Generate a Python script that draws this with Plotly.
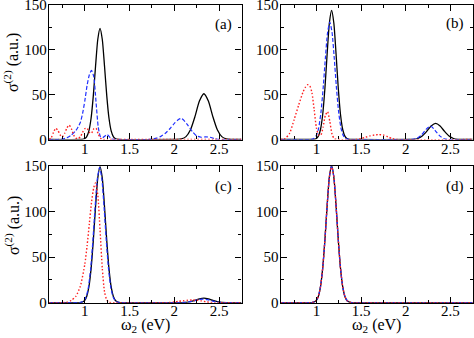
import plotly.graph_objects as go

W, H = 474, 338

# ---------------- data ----------------
# panel (a)
a_black_x = [0.60, 0.95, 0.97, 0.995, 1.02, 1.045, 1.07, 1.095, 1.12, 1.145, 1.17, 1.195, 1.22, 1.245, 1.27, 1.295, 1.32, 1.345, 1.37, 1.40,
             2.00, 2.03, 2.08, 2.13, 2.18, 2.23, 2.28, 2.33, 2.38, 2.43, 2.48, 2.53, 2.58, 2.63, 2.66, 2.75]
a_black_y = [0, 0, 0.2, 0.8, 3.0, 9.4, 23.7, 48.9, 82.0, 111.8, 124, 111.8, 82.0, 48.9, 23.7, 9.4, 3.0, 0.8, 0.2, 0,
             0, 0.1, 0.7, 3.2, 10.8, 25.5, 42.9, 51, 42.9, 25.5, 10.8, 3.2, 0.7, 0.1, 0, 0]
a_blue_x = [0.60, 0.70, 0.75, 0.80, 0.85, 0.90, 0.925, 0.95, 0.975, 1.00, 1.025, 1.05, 1.075, 1.10, 1.125, 1.15, 1.175, 1.20, 1.225, 1.25, 1.275, 1.30, 1.35,
            1.70, 1.75, 1.80, 1.85, 1.90, 1.95, 2.00, 2.05, 2.075, 2.10, 2.15, 2.20, 2.25, 2.30, 2.35, 2.40, 2.45, 2.50, 2.75]
a_blue_y = [0, 0, 0.5, 2, 5, 10, 14, 19, 29, 43, 60, 72, 77, 70, 42, 14, 3, 2, 4, 5.5, 3, 0.5, 0,
            0, 0.5, 1.5, 3.5, 7, 12, 18, 22.5, 23.5, 22, 16, 9, 4, 2.5, 3, 2.5, 1, 0, 0]
a_red_x = [0.60, 0.625, 0.65, 0.675, 0.70, 0.725, 0.75, 0.775, 0.80, 0.825, 0.85, 0.875, 0.90, 0.925, 0.95, 0.975, 1.00, 1.025, 1.05, 1.075,
           1.10, 1.125, 1.15, 1.175, 1.20, 1.25, 2.75]
a_red_y = [0, 2, 8, 12.5, 10, 5, 3, 7, 13, 16, 12, 5, 1.5, 1, 3, 8, 12, 12.5, 8, 7,
           12, 12.5, 6, 1.5, 0, 0, 0]

# panel (b)
b_black_x = [0.60, 0.95, 0.97, 0.995, 1.02, 1.045, 1.07, 1.095, 1.12, 1.145, 1.17, 1.195, 1.22, 1.245, 1.27, 1.295, 1.32, 1.345, 1.37, 1.40,
             2.035, 2.085, 2.135, 2.185, 2.235, 2.285, 2.335, 2.385, 2.435, 2.485, 2.535, 2.585, 2.635, 2.75]
b_black_y = [0, 0, 0.1, 0.9, 3.5, 10.9, 27.6, 56.9, 95.3, 129.9, 144, 129.9, 95.3, 56.9, 27.6, 10.9, 3.5, 0.9, 0.1, 0,
             0, 0.2, 1.1, 3.8, 9.0, 15.1, 18, 15.1, 9.0, 3.8, 1.1, 0.2, 0, 0]
b_blue_x = [0.60, 0.92, 0.95, 0.975, 1.00, 1.025, 1.05, 1.075, 1.10, 1.125, 1.15, 1.175, 1.20, 1.225, 1.25, 1.275, 1.30, 1.325, 1.35, 1.38,
            2.03, 2.08, 2.13, 2.18, 2.23, 2.28, 2.33, 2.38, 2.43, 2.48, 2.75]
b_blue_y = [0, 0, 0.3, 1.4, 4.6, 12.8, 29.6, 56.7, 90.4, 119.3, 131, 119.3, 90.4, 56.7, 29.6, 12.8, 4.6, 1.4, 0.3, 0,
            0, 0.3, 1.5, 5.4, 11.6, 15, 10, 4, 0.8, 0, 0]
b_red_x = [0.60, 0.625, 0.65, 0.70, 0.75, 0.80, 0.85, 0.875, 0.90, 0.925, 0.95, 0.975, 1.00, 1.025, 1.05, 1.075, 1.10, 1.125, 1.15, 1.175, 1.20, 1.25,
           1.45, 1.50, 1.55, 1.60, 1.65, 1.70, 1.75, 1.80, 1.85, 1.90, 2.75]
b_red_y = [0, 0, 1, 7, 22, 38, 53, 58, 61, 60, 52, 33, 13, 5, 5, 14, 27, 31, 20, 6, 1, 0,
           0, 1, 2.5, 4, 5, 5.5, 5, 3, 1, 0, 0]

# panel (c)
c_black_x = [0.60, 0.92, 0.945, 0.97, 0.995, 1.02, 1.045, 1.07, 1.095, 1.12, 1.145, 1.17, 1.195, 1.22, 1.245, 1.27, 1.295, 1.32, 1.345, 1.37, 1.395, 1.42,
             2.03, 2.08, 2.13, 2.18, 2.23, 2.28, 2.33, 2.38, 2.43, 2.48, 2.53, 2.58, 2.63, 2.75]
c_black_y = [0, 0, 0.1, 0.6, 2.1, 6.6, 17.0, 37.1, 68.2, 105.3, 136.6, 149, 136.6, 105.3, 68.2, 37.1, 17.0, 6.6, 2.1, 0.6, 0.1, 0,
             0, 0.07, 0.3, 1.05, 2.5, 4.2, 5, 4.2, 2.5, 1.05, 0.3, 0.07, 0, 0]
c_blue_x = [0.60, 0.915, 0.94, 0.965, 0.99, 1.015, 1.04, 1.065, 1.09, 1.115, 1.14, 1.165, 1.19, 1.215, 1.24, 1.265, 1.29, 1.315, 1.34, 1.365, 1.39, 1.415,
            2.02, 2.07, 2.12, 2.17, 2.22, 2.27, 2.32, 2.37, 2.42, 2.47, 2.52, 2.57, 2.62, 2.75]
c_blue_y = [0, 0, 0.1, 0.6, 2.1, 6.5, 16.9, 36.9, 67.8, 104.6, 135.7, 148, 135.7, 104.6, 67.8, 36.9, 16.9, 6.5, 2.1, 0.6, 0.1, 0,
            0, 0.05, 0.25, 0.85, 2.0, 3.4, 4, 3.4, 2.0, 0.85, 0.25, 0.05, 0, 0]
c_red_x = [0.60, 0.75, 0.80, 0.85, 0.90, 0.95, 1.00, 1.025, 1.05, 1.075, 1.10, 1.12, 1.145, 1.17, 1.195, 1.22, 1.245, 1.27, 1.30,
           1.90, 1.95, 2.00, 2.05, 2.10, 2.15, 2.20, 2.25, 2.30, 2.35, 2.40, 2.45, 2.75]
c_red_y = [0, 0, 0.5, 2.5, 7, 18, 42, 62, 86, 110, 126, 131, 118, 80, 38, 12, 3, 0.5, 0,
           0, 0.3, 0.8, 1.5, 2.2, 2.7, 3, 2.7, 2, 1, 0.3, 0, 0]

# panel (d)
d_x = [0.60, 0.92, 0.945, 0.97, 0.995, 1.02, 1.045, 1.07, 1.095, 1.12, 1.145, 1.17, 1.195, 1.22, 1.245, 1.27, 1.295, 1.32, 1.345, 1.37, 1.395, 1.42, 2.75]
d_black_y = [0, 0, 0.1, 0.6, 2.1, 6.6, 17.1, 37.4, 68.7, 106.1, 137.6, 150, 137.6, 106.1, 68.7, 37.4, 17.1, 6.6, 2.1, 0.6, 0.1, 0, 0]
d_blue_y = d_black_y
d_red_y = d_black_y

panel_labels = ["(a)", "(b)", "(c)", "(d)"]
x_range = [0.6, 2.75]
y_range = [0, 150]

# ---------------- figure ----------------
FONT = "Liberation Serif, Times New Roman, serif"
BLACK = "#000000"
BLUE = "#1f2fff"
RED = "#ff1f1f"

panels = [
    (a_black_x, a_black_y, a_blue_x, a_blue_y, a_red_x, a_red_y),
    (b_black_x, b_black_y, b_blue_x, b_blue_y, b_red_x, b_red_y),
    (c_black_x, c_black_y, c_blue_x, c_blue_y, c_red_x, c_red_y),
    (d_x, d_black_y, d_x, d_blue_y, d_x, d_red_y),
]

def px(v):
    return v / W

def py(v):
    return 1 - v / H

xdoms = [[px(49), px(241.5)], [px(280.7), px(472.7)]]
ydoms = [[py(139.5), py(5)], [py(302.7), py(165.7)]]

fig = go.Figure()
for i, (bx, by, ux, uy, rx, ry) in enumerate(panels):
    suf = "" if i == 0 else str(i + 1)
    xa, ya = "x" + suf, "y" + suf
    fig.add_trace(go.Scatter(x=bx, y=by, mode="lines", xaxis=xa, yaxis=ya,
                             line=dict(color=BLACK, width=1.3, shape="spline", smoothing=0.6), showlegend=False))
    fig.add_trace(go.Scatter(x=ux, y=uy, mode="lines", xaxis=xa, yaxis=ya,
                             line=dict(color=BLUE, width=1.2, dash="4px,2px", shape="spline", smoothing=0.6), showlegend=False))
    fig.add_trace(go.Scatter(x=rx, y=ry, mode="lines", xaxis=xa, yaxis=ya,
                             line=dict(color=RED, width=1.4, dash="1.5px,2px", shape="spline", smoothing=0.6), showlegend=False))

axis_common = dict(showline=True, linecolor="black", linewidth=1.3, mirror="ticks",
                   ticks="inside", ticklen=6, tickwidth=1.1, tickcolor="black",
                   showgrid=False, zeroline=False, automargin=False, ticklabeloverflow="allow",
                   tickfont=dict(family=FONT, size=15, color="black"))

layout = dict(width=W, height=H, margin=dict(l=0, r=0, t=0, b=0, autoexpand=False),
              plot_bgcolor="white", paper_bgcolor="white", showlegend=False)
for i in range(4):
    suf = "" if i == 0 else str(i + 1)
    row, col = i // 2, i % 2
    layout["xaxis" + suf] = dict(axis_common, domain=xdoms[col], range=x_range,
                                 tickmode="linear", tick0=0, dtick=0.5,
                                 minor=dict(ticks="inside", ticklen=3, tickwidth=1.1, tickcolor="black", dtick=0.25, tick0=0),
                                 anchor="y" + suf, ticklabelstandoff=-5 if row == 0 else -6)
    layout["yaxis" + suf] = dict(axis_common, domain=ydoms[row], range=y_range,
                                 tickmode="linear", tick0=0, dtick=50,
                                 minor=dict(ticks="inside", ticklen=3, tickwidth=1.1, tickcolor="black", dtick=25, tick0=0),
                                 anchor="x" + suf, ticklabelstandoff=-2)
fig.update_layout(**layout)

ann = []
label_pos = [(233.5, 24), (466, 23), (233.5, 186), (466, 186)]
for lab, (lx, ly) in zip(panel_labels, label_pos):
    ann.append(dict(text=lab, x=px(lx), y=py(ly), xref="paper", yref="paper", xanchor="right", yanchor="middle",
                    showarrow=False, font=dict(family=FONT, size=15, color="black")))
for cy in [63, 226]:
    ann.append(dict(text="σ<sup>(2)</sup> (a.u.)", x=px(12), y=py(cy), xref="paper", yref="paper",
                    xanchor="center", yanchor="middle", textangle=-90, showarrow=False,
                    font=dict(family=FONT, size=16, color="black")))
for cx in [145.2, 376.7]:
    ann.append(dict(text="ω<sub>2</sub> (eV)", x=px(cx), y=py(325), xref="paper", yref="paper",
                    xanchor="center", yanchor="middle", showarrow=False,
                    font=dict(family=FONT, size=16, color="black")))
fig.update_layout(annotations=ann)

fig.write_html("out.html")
